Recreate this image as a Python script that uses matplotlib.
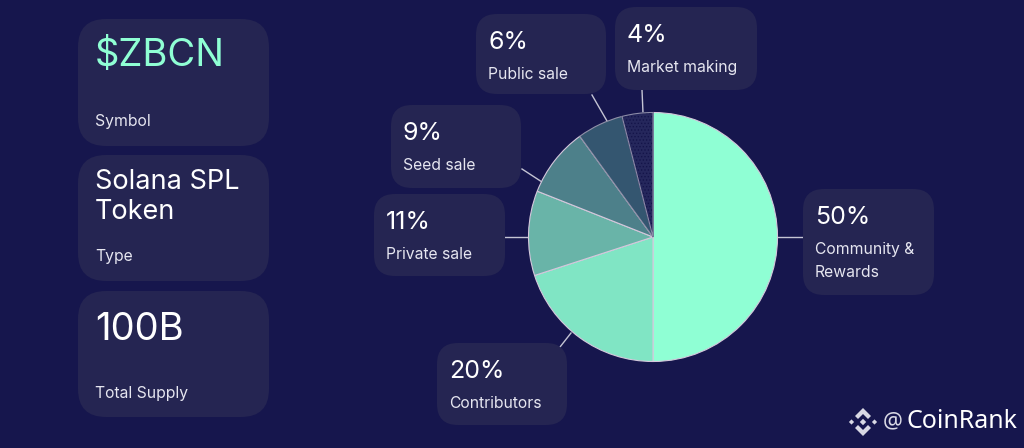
import matplotlib
matplotlib.use('Agg')
import matplotlib.pyplot as plt
from matplotlib.patches import FancyBboxPatch, Polygon, Wedge

plt.rcParams['font.family'] = ['Inter', 'DejaVu Sans']
plt.rcParams['hatch.linewidth'] = 0.6

W, H = 1024, 448
BG = '#16164D'
CARD = '#252552'

# token allocation
shares = [50, 20, 11, 9, 6, 4]
pct_labels = ['50%', '20%', '11%', '9%', '6%', '4%']
names = ['Community &\nRewards', 'Contributors', 'Private sale', 'Seed sale', 'Public sale', 'Market making']
pie_colors = ['#8FFFD4', '#80E5C4', '#69B4A8', '#4D808A', '#345670', '#25275C']

info_values = ['$ZBCN', 'Solana SPL\nToken', '100B']
info_names = ['Symbol', 'Type', 'Total Supply']
info_colors = ['#8FFFD4', '#FFFFFF', '#FFFFFF']


def yy(py):
    # picture y (from top) to axes y
    return H - py


def card(ax, x0, y0, x1, y1, r=24):
    box = FancyBboxPatch((x0 + r, yy(y1) + r), x1 - x0 - 2 * r, y1 - y0 - 2 * r,
                         boxstyle='round,pad=%d,rounding_size=%d' % (r, r),
                         fc=CARD, ec='none', zorder=2)
    ax.add_patch(box)


fig = plt.figure(figsize=(W / 100, H / 100), dpi=100, facecolor=BG)
ax = fig.add_axes([0, 0, 1, 1])
ax.set_xlim(0, W)
ax.set_ylim(0, H)
ax.axis('off')

# left cards
info_boxes = [(78, 19, 269, 146), (78, 155, 269, 281), (78, 291, 269, 417)]
value_y = [56, 197, 330]
name_y = [121, 256, 393]
for i in range(3):
    x0, y0, x1, y1 = info_boxes[i]
    card(ax, x0, y0, x1, y1, r=28)
    ax.text(95, yy(value_y[i]), info_values[i], color=info_colors[i], fontsize=27.5 if i != 1 else 19.5,
            va='center', ha='left', linespacing=1.2, zorder=3)
    ax.text(95, yy(name_y[i]), info_names[i], color='#E6E6F0', fontsize=11.3, va='center', ha='left', zorder=3)

# leader lines
lines = [((778, 237), (805, 237)), ((560, 347), (571, 333)), ((505, 237), (530, 237)),
         ((522, 169), (542, 182)), ((592, 95), (607, 121)), ((642, 90), (643, 113))]
for a, b in lines:
    ax.plot([a[0], b[0]], [yy(a[1]), yy(b[1])], color='#C4C4D4', lw=1.0, zorder=1)

# pie
wedges, _ = ax.pie(shares, colors=pie_colors, startangle=90, counterclock=False,
                   center=(653, yy(237)), radius=124.5, frame=True,
                   wedgeprops=dict(ec='#D4C8DC', lw=0.8))
wedges[-1].set_hatch('.....')
wedges[-1].set_edgecolor('#14144A')
wedges[4].set_edgecolor('#9090A8')
# hatch colour follows the edge, so the outline of the dotted slice goes on top
ax.add_patch(Wedge(wedges[-1].center, wedges[-1].r, wedges[-1].theta1, wedges[-1].theta2,
                   fc='none', ec='#8C8CA8', lw=0.8, zorder=wedges[-1].get_zorder() + 1))
ax.set_xlim(0, W)
ax.set_ylim(0, H)
ax.set_aspect('auto')
ax.axis('off')

# label cards, same order as shares
label_boxes = [(803, 189, 934, 295), (437, 343, 567, 425), (374, 194, 505, 276),
               (391, 105, 521, 188), (476, 14, 606, 94), (615, 7, 757, 90)]
for i in range(6):
    x0, y0, x1, y1 = label_boxes[i]
    card(ax, x0, y0, x1, y1, r=21)
    ax.text(x0 + 12, yy(y0 + 28), pct_labels[i], color='#FFFFFF', fontsize=18, va='center', ha='left', zorder=3)
    name_cy = y0 + 60 if i != 0 else y0 + 72
    ax.text(x0 + 12, yy(name_cy), names[i], color='#E6E6F0', fontsize=11.3, va='center', ha='left',
            linespacing=1.6, zorder=3)

# watermark
LOGO = '#D8D8E4'
cx, cy = 863, yy(422)
ax.add_patch(Polygon([(cx - 8, cy + 6), (cx, cy + 14), (cx + 8, cy + 6), (cx + 5, cy + 3),
                      (cx, cy + 8), (cx - 5, cy + 3)], fc=LOGO, ec='none', zorder=3))
ax.add_patch(Polygon([(cx - 8, cy - 6), (cx, cy - 14), (cx + 8, cy - 6), (cx + 5, cy - 3),
                      (cx, cy - 8), (cx - 5, cy - 3)], fc=LOGO, ec='none', zorder=3))
for dx, s in [(-11.5, 2.6), (11.5, 2.6), (0, 3.2)]:
    ax.add_patch(Polygon([(cx + dx - s, cy), (cx + dx, cy + s), (cx + dx + s, cy), (cx + dx, cy - s)],
                         fc=LOGO, ec='none', zorder=3))
ax.text(883, yy(422), '@', color='#D8D8E4', fontsize=16, va='center', ha='left', family=['Noto Sans', 'DejaVu Sans'])
ax.text(906, yy(421), 'CoinRank', color='#FFFFFF', fontsize=18, va='center', ha='left', family=['Noto Sans', 'DejaVu Sans'])

fig.savefig('out.png', dpi=100, facecolor=BG)
